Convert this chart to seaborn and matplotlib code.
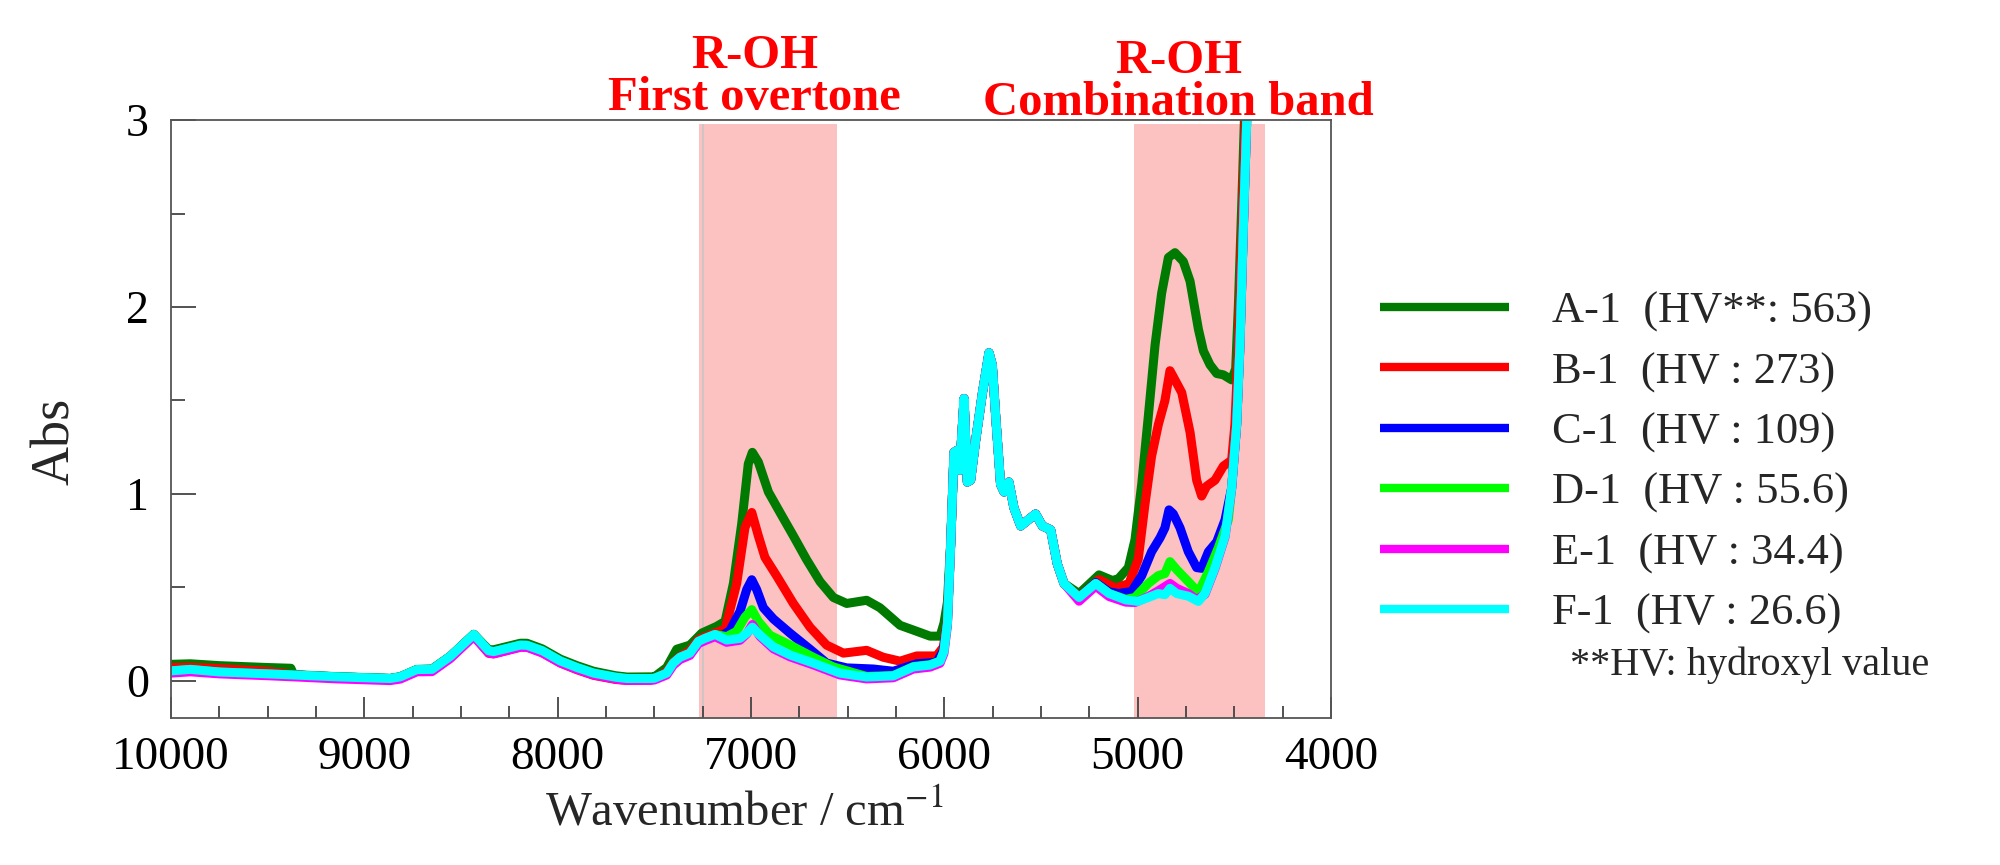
import matplotlib
matplotlib.use('Agg')  # no display
import pandas as pd
import matplotlib.pyplot as plt
import seaborn as sns
from matplotlib.lines import Line2D
from matplotlib.ticker import MultipleLocator

# ---- data (wavenumber / cm-1, absorbance) ----
SAMPLES = ['A-1', 'B-1', 'C-1', 'D-1', 'E-1', 'F-1']
LABELS = ['A-1  (HV**: 563)', 'B-1  (HV : 273)', 'C-1  (HV : 109)',
          'D-1  (HV : 55.6)', 'E-1  (HV : 34.4)', 'F-1  (HV : 26.6)']
COLORS = ['#007a00', '#ff0000', '#0000ff', '#00ff00', '#ff00ff', '#00ffff']

# 10000 - 7500 region
FAR_WN = [10000, 9900, 9750, 9500, 9366, 9141, 8866, 8814, 8728, 8650, 8555, 8434,
          8357, 8331, 8193, 8159, 8080, 7986, 7900, 7814, 7700, 7641, 7521]
F1_FAR = [0.052, 0.060, 0.046, 0.036, 0.030, 0.020, 0.011, 0.020, 0.059, 0.060, 0.130, 0.247,
          0.160, 0.155, 0.190, 0.189, 0.160, 0.105, 0.070, 0.040, 0.018, 0.011, 0.011]
E1_FAR = [0.040, 0.047, 0.036, 0.026, 0.020, 0.009, 0.000, 0.008, 0.047, 0.048, 0.118, 0.236,
          0.148, 0.143, 0.178, 0.178, 0.148, 0.094, 0.060, 0.030, 0.008, 0.001, 0.001]
B1_FAR = [0.070, 0.072, 0.064, 0.050, 0.031, 0.018, 0.006, 0.015, 0.053, 0.055, 0.124, 0.240,
          0.146, 0.143, 0.180, 0.180, 0.150, 0.094, 0.058, 0.028, 0.006, 0.001, 0.003]
A1_FAR_WN = [10000, 9900, 9750, 9500, 9380, 9366, 9141, 8866, 8814, 8728, 8650, 8555, 8434,
             8357, 8331, 8193, 8159, 8080, 7986, 7900, 7814, 7700, 7641, 7521]
A1_FAR = [0.087, 0.090, 0.080, 0.070, 0.066, 0.032, 0.021, 0.012, 0.021, 0.060, 0.062, 0.131, 0.248,
          0.166, 0.165, 0.200, 0.200, 0.170, 0.115, 0.080, 0.050, 0.026, 0.019, 0.020]

# first overtone region 7500 - 5967
F1_B1_WN = [7500, 7436, 7402, 7367, 7316, 7272, 7238, 7186, 7126, 7057, 7022, 6993, 6953,
            6884, 6798, 6678, 6540, 6402, 6264, 6160, 6074, 6022, 6002, 5984, 5967]
F1_B1 = [0.012, 0.040, 0.094, 0.125, 0.147, 0.210, 0.226, 0.247, 0.217, 0.226, 0.254, 0.286, 0.243,
         0.180, 0.137, 0.094, 0.040, 0.019, 0.025, 0.073, 0.083, 0.104, 0.157, 0.307, 0.733]
E1_B1 = [0.003, 0.030, 0.082, 0.113, 0.135, 0.198, 0.214, 0.235, 0.205, 0.216, 0.250, 0.300, 0.236,
         0.170, 0.127, 0.084, 0.030, 0.009, 0.015, 0.062, 0.072, 0.093, 0.145, 0.295, 0.725]
D1_B1_WN = [7500, 7436, 7402, 7367, 7316, 7272, 7238, 7186, 7126, 7074, 7031, 6996, 6962,
            6902, 6798, 6678, 6574, 6402, 6264, 6160, 6074, 6022, 6002, 5984, 5967]
D1_B1 = [0.012, 0.040, 0.094, 0.125, 0.147, 0.210, 0.226, 0.247, 0.235, 0.264, 0.340, 0.380, 0.317,
         0.243, 0.190, 0.125, 0.073, 0.022, 0.027, 0.075, 0.085, 0.104, 0.157, 0.307, 0.733]
C1_B1_WN = [7500, 7436, 7402, 7367, 7316, 7272, 7238, 7186, 7150, 7109, 7057, 7022, 6996, 6971,
            6936, 6884, 6798, 6695, 6609, 6505, 6367, 6264, 6143, 6040, 6005, 5984, 5967]
C1_B1 = [0.012, 0.040, 0.094, 0.125, 0.147, 0.210, 0.226, 0.247, 0.240, 0.268, 0.370, 0.488, 0.540, 0.488,
         0.390, 0.330, 0.254, 0.168, 0.094, 0.068, 0.062, 0.050, 0.090, 0.098, 0.160, 0.310, 0.733]
B1_B1_WN = [7500, 7436, 7402, 7367, 7316, 7272, 7238, 7186, 7134, 7074, 7031, 6996, 6962, 6928,
            6867, 6781, 6695, 6609, 6522, 6402, 6316, 6229, 6143, 6040, 6005, 5984, 5967]
B1_B1 = [0.008, 0.050, 0.100, 0.130, 0.160, 0.220, 0.235, 0.255, 0.275, 0.520, 0.820, 0.900, 0.775, 0.660,
         0.560, 0.413, 0.286, 0.190, 0.147, 0.162, 0.125, 0.104, 0.132, 0.132, 0.180, 0.330, 0.733]
A1_B1_WN = [7500, 7436, 7384, 7316, 7255, 7178, 7134, 7091, 7048, 7014, 6993, 6962, 6910, 6850,
            6781, 6712, 6643, 6574, 6505, 6402, 6333, 6229, 6143, 6074, 6022, 6002, 5984, 5967]
A1_B1 = [0.020, 0.070, 0.168, 0.190, 0.254, 0.290, 0.317, 0.520, 0.840, 1.160, 1.222, 1.170, 1.010, 0.900,
         0.775, 0.647, 0.530, 0.445, 0.413, 0.430, 0.390, 0.296, 0.264, 0.238, 0.238, 0.307, 0.420, 0.740]

# C-H region shared by all samples 5950 - 5381
CH_WN = [5950, 5933, 5921, 5898, 5881, 5864, 5838, 5803, 5769, 5752, 5734,
         5709, 5691, 5666, 5640, 5605, 5562, 5528, 5493, 5450, 5416, 5381]
CH_ABS = [1.222, 1.233, 1.126, 1.510, 1.063, 1.073, 1.286, 1.540, 1.755, 1.690, 1.410,
          1.050, 1.010, 1.063, 0.925, 0.828, 0.864, 0.892, 0.828, 0.807, 0.626, 0.520]

# combination band region 5303 - 4420
F1_B2_WN = [5303, 5217, 5148, 5062, 5000, 4945, 4893, 4859, 4833, 4798, 4738,
            4686, 4652, 4600, 4548, 4514, 4488, 4471, 4453, 4436, 4420]
F1_B2 = [0.445, 0.520, 0.466, 0.432, 0.424, 0.445, 0.466, 0.460, 0.494, 0.466, 0.452,
         0.424, 0.466, 0.605, 0.775, 1.031, 1.371, 1.797, 2.436, 3.000, 3.400]
E1_B2_WN = [5303, 5217, 5148, 5062, 5014, 4945, 4893, 4833, 4798, 4738,
            4695, 4652, 4600, 4548, 4514, 4488, 4471, 4453, 4436, 4420]
E1_B2 = [0.425, 0.505, 0.450, 0.420, 0.418, 0.450, 0.481, 0.520, 0.494, 0.466,
         0.434, 0.462, 0.600, 0.770, 1.025, 1.365, 1.790, 2.430, 3.000, 3.400]
D1_B2_WN = [5303, 5217, 5148, 5062, 5014, 4945, 4893, 4859, 4833, 4798, 4738,
            4686, 4634, 4583, 4531, 4514, 4488, 4471, 4453, 4436, 4420]
D1_B2 = [0.445, 0.520, 0.466, 0.435, 0.445, 0.520, 0.562, 0.573, 0.637, 0.594, 0.530,
         0.472, 0.583, 0.711, 0.861, 1.031, 1.371, 1.797, 2.436, 3.000, 3.400]
C1_B2_WN = [5303, 5217, 5148, 5100, 5031, 4979, 4928, 4884, 4859, 4838, 4816, 4781,
            4738, 4695, 4669, 4634, 4591, 4548, 4514, 4488, 4471, 4453, 4436, 4420]
C1_B2 = [0.445, 0.525, 0.475, 0.466, 0.477, 0.562, 0.690, 0.765, 0.818, 0.914, 0.893, 0.818,
         0.690, 0.605, 0.601, 0.690, 0.743, 0.861, 1.031, 1.371, 1.797, 2.436, 3.000, 3.400]
B1_B2_WN = [5303, 5200, 5114, 5045, 4997, 4962, 4928, 4893, 4859, 4833, 4816, 4772,
            4729, 4695, 4669, 4643, 4600, 4557, 4514, 4497, 4479, 4455, 4440, 4420]
B1_B2 = [0.450, 0.541, 0.495, 0.520, 0.650, 0.946, 1.201, 1.371, 1.499, 1.659, 1.627, 1.542,
         1.329, 1.073, 0.988, 1.041, 1.073, 1.148, 1.180, 1.371, 1.797, 2.600, 3.100, 3.400]
A1_B2_WN = [5303, 5200, 5131, 5100, 5048, 5014, 4979, 4945, 4910, 4876, 4841, 4807, 4764,
            4729, 4686, 4660, 4626, 4591, 4557, 4514, 4493, 4479, 4462, 4445, 4420]
A1_B2 = [0.466, 0.566, 0.536, 0.545, 0.605, 0.754, 1.052, 1.414, 1.797, 2.074, 2.265, 2.291, 2.244,
         2.138, 1.882, 1.765, 1.691, 1.644, 1.637, 1.610, 1.670, 2.010, 2.540, 3.100, 3.400]

# shaded O-H bands
BANDS = [(7270, 6555), (5020, 4340)]
BAND_TEXT = ['R-OH\nFirst overtone', 'R-OH\nCombination band']
BAND_TEXT_X = [6980, 4790]

SEGMENTS = {
    'A-1': [(A1_FAR_WN, A1_FAR), (A1_B1_WN, A1_B1), (CH_WN, CH_ABS), (A1_B2_WN, A1_B2)],
    'B-1': [(FAR_WN, B1_FAR), (B1_B1_WN, B1_B1), (CH_WN, CH_ABS), (B1_B2_WN, B1_B2)],
    'C-1': [(FAR_WN, F1_FAR), (C1_B1_WN, C1_B1), (CH_WN, CH_ABS), (C1_B2_WN, C1_B2)],
    'D-1': [(FAR_WN, F1_FAR), (D1_B1_WN, D1_B1), (CH_WN, CH_ABS), (D1_B2_WN, D1_B2)],
    'E-1': [(FAR_WN, E1_FAR), (F1_B1_WN, E1_B1), (CH_WN, CH_ABS), (E1_B2_WN, E1_B2)],
    'F-1': [(FAR_WN, F1_FAR), (F1_B1_WN, F1_B1), (CH_WN, CH_ABS), (F1_B2_WN, F1_B2)],
}


def build_frame():
    rows = []
    for name in SAMPLES:
        for wn, ab in SEGMENTS[name]:
            rows.append(pd.DataFrame({'wavenumber': wn, 'abs': ab, 'sample': name}))
    return pd.concat(rows, ignore_index=True)


sns.set_style('white')
plt.rcParams['font.family'] = ['Liberation Serif', 'DejaVu Serif']
plt.rcParams['mathtext.fontset'] = 'stix'
plt.rcParams['lines.solid_joinstyle'] = 'round'
plt.rcParams['lines.solid_capstyle'] = 'butt'

df = build_frame()

fig = plt.figure(figsize=(20, 8.65), dpi=100)
ax = fig.add_axes([0.0855, 0.170, 0.58, 0.691])

for lo, hi in BANDS:
    ax.axvspan(lo, hi, ymin=0, ymax=0.994, color='#fcc1c1', lw=0, zorder=0)
ax.axvline(7250, ymin=0, ymax=0.994, color='#c6c6c6', lw=1.2, zorder=0.5)

sns.lineplot(data=df, x='wavenumber', y='abs', hue='sample', hue_order=SAMPLES,
             palette=dict(zip(SAMPLES, COLORS)), estimator=None, sort=False,
             linewidth=6.5, legend=False, ax=ax)

ax.set_xlim(10000, 4000)
ax.set_ylim(-0.2, 3)
ax.xaxis.set_major_locator(MultipleLocator(1000))
ax.xaxis.set_minor_locator(MultipleLocator(250))
ax.yaxis.set_major_locator(MultipleLocator(1))
ax.yaxis.set_minor_locator(MultipleLocator(0.5))
ax.tick_params(which='both', direction='in', bottom=True, left=True, top=False, right=False,
               color='#444444', width=1.3, labelcolor='black')
ax.tick_params(axis='x', which='major', length=15, labelsize=34, pad=13)
ax.tick_params(axis='x', which='minor', length=9)
ax.tick_params(axis='y', which='major', length=18, labelsize=33, pad=16)
ax.tick_params(axis='y', which='minor', length=10)
for sp in ax.spines.values():
    sp.set_color('#555555')
    sp.set_linewidth(1.3)

ax.set_xlabel('Wavenumber / cm$^{-1}$', fontsize=35)
ax.xaxis.set_label_coords(0.494, -0.12)
ax.set_ylabel('Abs', fontsize=39)
ax.yaxis.set_label_coords(-0.078, 0.463)

for txt, xpos, ypos in zip(BAND_TEXT, BAND_TEXT_X, [1.0, 0.992]):
    ax.text(xpos, ypos, txt, transform=ax.get_xaxis_transform(), ha='center', va='bottom',
            color='#ff0000', fontsize=35, fontweight='bold', linespacing=0.95, clip_on=False)

handles = [Line2D([], [], color=c, lw=6) for c in COLORS]
ax.legend(handles, LABELS, loc='upper left', bbox_to_anchor=(0.690, 0.663),
          bbox_transform=fig.transFigure, frameon=False, fontsize=32,
          handlelength=2.9, handletextpad=0.98, labelspacing=0.446,
          borderpad=0, borderaxespad=0)
fig.text(0.785, 0.231, '**HV: hydroxyl value', fontsize=29, va='center', ha='left')

fig.savefig('out.png', dpi=100, facecolor='white')
plt.close(fig)
